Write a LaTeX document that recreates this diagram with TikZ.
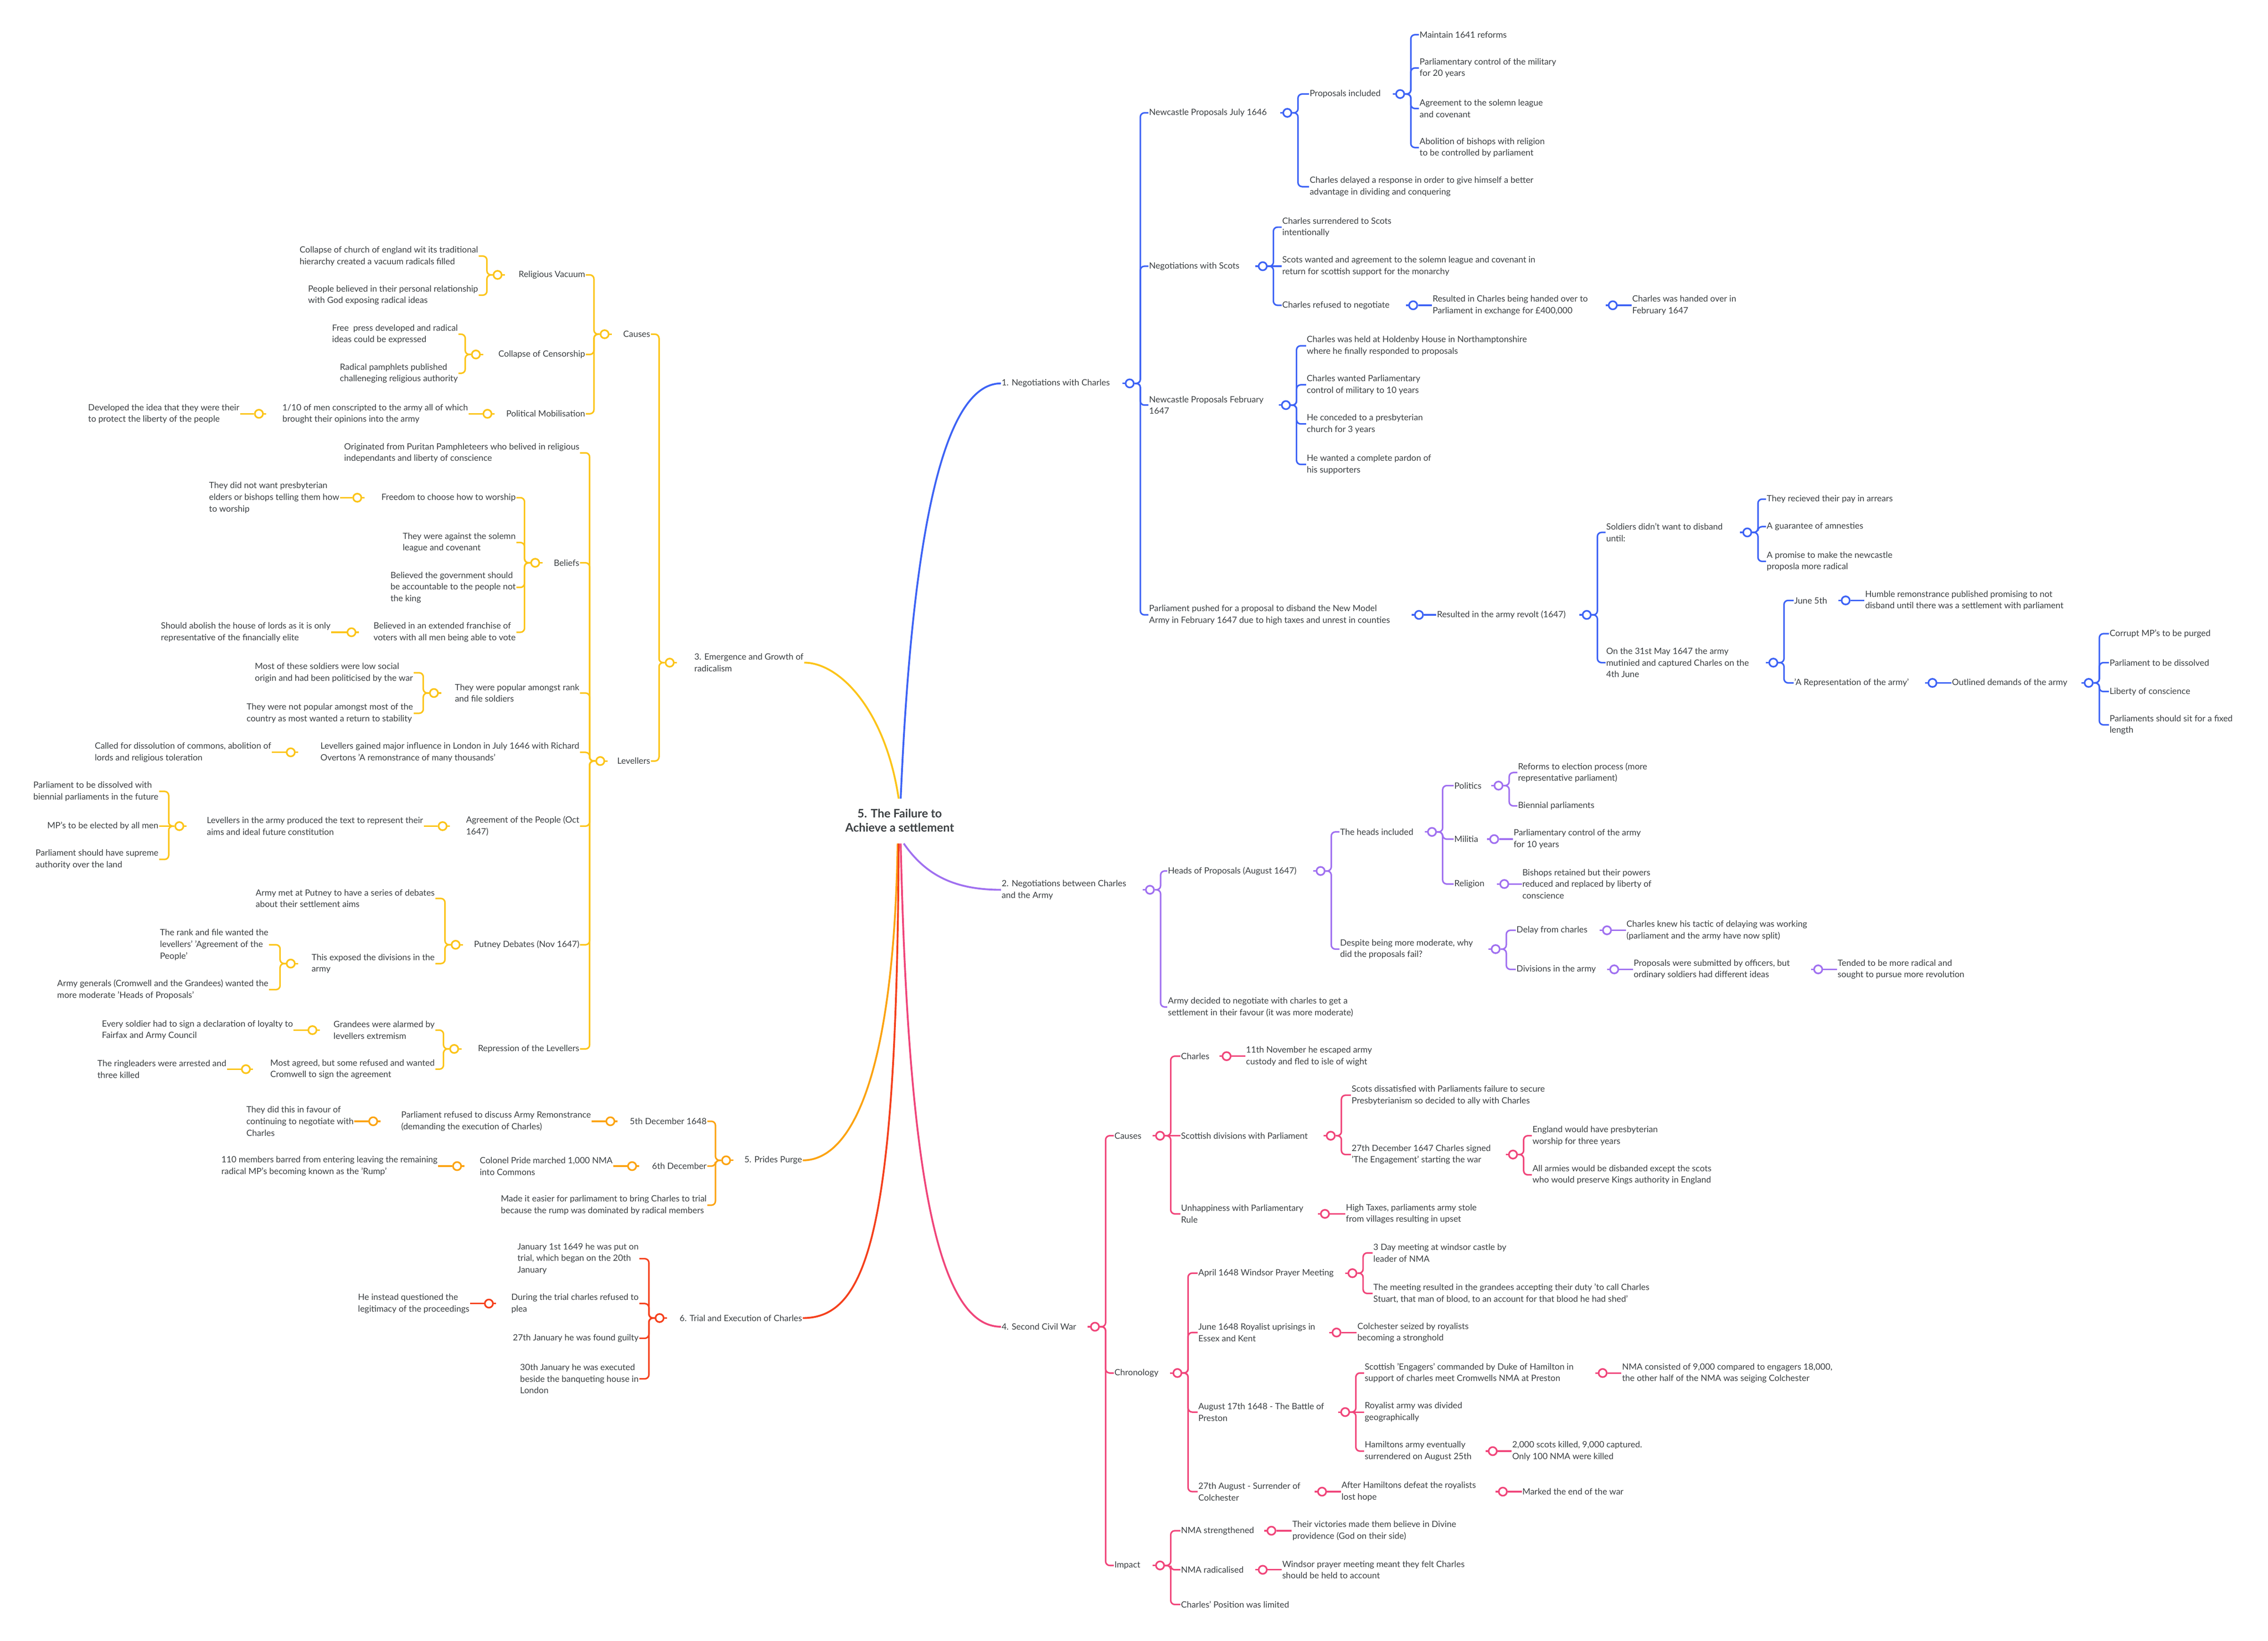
\documentclass[tikz,border=0pt]{standalone}
\usepackage{fontspec}
\setmainfont{Lato}
\definecolor{B}{HTML}{3D63F5}
\definecolor{P}{HTML}{A070F0}
\definecolor{Y}{HTML}{FCC419}
\definecolor{K}{HTML}{F0457A}
\definecolor{O}{HTML}{FCA311}
\definecolor{R}{HTML}{F5401C}
\definecolor{T}{HTML}{3C4043}
\tikzset{
 txt/.style={font=\fontsize{8.5}{11.4}\selectfont, text=T, align=left, inner sep=0.5pt},
 dot/.style={circle, fill=white, line width=1.6pt, minimum size=8pt, inner sep=0pt},
 con/.style={line width=1.5pt, rounded corners=4pt},
 main/.style={line width=1.8pt}
}
\newcommand\R[4]{\node[txt,anchor=west] (#1) at (#2,#3) {#4};}
\newcommand\Lt[4]{\node[txt,anchor=east] (#1) at (#2,#3) {#4};}
\newcommand\D[4]{\draw[#4,line width=1.5pt] (#2,#3) -- ++(-5,0); \node[dot,draw=#4] (#1) at (#2,#3) {};}
\newcommand\E[4]{\draw[#4,line width=1.5pt] (#2,#3) -- ++(5,0); \node[dot,draw=#4] (#1) at (#2,#3) {};}
\newdimen\mydy
\newcommand\Conn[4]{% from anchor, to anchor, color, dir(+4/-4)
 \path (#1) coordinate (tmpa) (#2) coordinate (tmpb);
 \pgfextracty{\mydy}{\pgfpointdiff{\pgfpointanchor{tmpa}{center}}{\pgfpointanchor{tmpb}{center}}}%
 \ifdim\mydy<0pt \mydy=-\mydy\fi
 \ifdim\mydy<2pt \draw[#3,con] (tmpa) -- (tmpb);
 \else \draw[#3,con] (tmpa) -- ++(#4,0) |- (tmpb);\fi}
\newcommand\C[3]{\Conn{#1.east}{#2.west}{#3}{4}}
\newcommand\Cl[3]{\Conn{#1.west}{#2.east}{#3}{-4}}
\begin{document}
\begin{tikzpicture}[x=0.5mm,y=-0.5mm]
\useasboundingbox[fill=white] (0,0) rectangle (1568,1134);
% centre
\node[font=\fontsize{11.5}{14}\selectfont\bfseries, text=T, align=center] (c) at (622,567) {5. The Failure to\\Achieve a settlement};
% ================= BRANCH 1
\R{b1}{692}{265}{1. Negotiations with Charles}
\R{n1}{794}{78}{Newcastle Proposals July 1646}
\R{n1a}{905}{65}{Proposals included}
\R{n1a1}{981}{24}{Maintain 1641 reforms}
\R{n1a2}{981}{47}{Parliamentary control of the military\\for 20 years}
\R{n1a3}{981}{75}{Agreement to the solemn league\\and covenant}
\R{n1a4}{981}{102}{Abolition of bishops with religion\\to be controlled by parliament}
\R{n1b}{905}{129}{Charles delayed a response in order to give himself a better\\advantage in dividing and conquering}
\R{n2}{794}{184}{Negotiations with Scots}
\R{n2a}{886}{157}{Charles surrendered to Scots\\intentionally}
\R{n2b}{886}{184}{Scots wanted and agreement to the solemn league and covenant in\\return for scottish support for the monarchy}
\R{n2c}{886}{211}{Charles refused to negotiate}
\R{n2c1}{990}{211}{Resulted in Charles being handed over to\\Parliament in exchange for £400,000}
\R{n2c2}{1128}{211}{Charles was handed over in\\February 1647}
\R{n3}{794}{280}{Newcastle Proposals February\\1647}
\R{n3a}{903}{239}{Charles was held at Holdenby House in Northamptonshire\\where he finally responded to proposals}
\R{n3b}{903}{266}{Charles wanted Parliamentary\\control of military to 10 years}
\R{n3c}{903}{293}{He conceded to a presbyterian\\church for 3 years}
\R{n3e}{903}{321}{He wanted a complete pardon of\\his supporters}
\R{n4}{794}{425}{Parliament pushed for a proposal to disband the New Model\\Army in February 1647 due to high taxes and unrest in counties}
\R{n4a}{993}{425}{Resulted in the army revolt (1647)}
\R{n4b}{1110}{368}{Soldiers didn't want to disband\\until:}
\R{n4b1}{1221}{345}{They recieved their pay in arrears}
\R{n4b2}{1221}{364}{A guarantee of amnesties}
\R{n4b3}{1221}{388}{A promise to make the newcastle\\proposla more radical}
\R{n4c}{1110}{458}{On the 31st May 1647 the army\\mutinied and captured Charles on the\\4th June}
\R{n4c1}{1240}{415}{June 5th}
\R{n4c1a}{1289}{415}{Humble remonstrance published promising to not\\disband until there was a settlement with parliament}
\R{n4c2}{1240}{472}{'A Representation of the army'}
\R{n4c2a}{1349}{472}{Outlined demands of the army}
\R{q1}{1458}{438}{Corrupt MP's to be purged}
\R{q2}{1458}{458}{Parliament to be dissolved}
\R{q3}{1458}{478}{Liberty of conscience}
\R{q4}{1458}{501}{Parliaments should sit for a fixed\\length}
\D{b1d}{781}{265}{B}\D{n1d}{890}{78}{B}\D{n1ad}{968}{65}{B}\D{n2d}{873}{184}{B}
\D{n2cd}{977}{211}{B}\D{n2c1d}{1115}{211}{B}\D{n3d}{889}{280}{B}\D{n4d}{981}{425}{B}
\D{n4ad}{1097}{425}{B}\D{n4bd}{1208}{368}{B}\D{n4cd}{1226}{458}{B}\D{n4c1d}{1276}{415}{B}
\D{n4c2d}{1336}{472}{B}\D{n4c2ad}{1444}{472}{B}
\foreach \a/\b in {b1d/n1,b1d/n2,b1d/n3,b1d/n4,n1d/n1a,n1d/n1b,n1ad/n1a1,n1ad/n1a2,n1ad/n1a3,n1ad/n1a4,
 n2d/n2a,n2d/n2b,n2d/n2c,n2cd/n2c1,n2c1d/n2c2,n3d/n3a,n3d/n3b,n3d/n3c,n3d/n3e,n4d/n4a,n4ad/n4b,n4ad/n4c,
 n4bd/n4b1,n4bd/n4b2,n4bd/n4b3,n4cd/n4c1,n4cd/n4c2,n4c1d/n4c1a,n4c2d/n4c2a,n4c2ad/q1,n4c2ad/q2,n4c2ad/q3,n4c2ad/q4}
 {\C{\a}{\b}{B}}
% ================= BRANCH 2
\R{b2}{692}{615}{2. Negotiations between Charles\\and the Army}
\R{h1}{807}{602}{Heads of Proposals (August 1647)}
\R{h1a}{926}{575}{The heads included}
\R{pol}{1005}{543}{Politics}
\R{pol1}{1049}{534}{Reforms to election process (more\\representative parliament)}
\R{pol2}{1049}{557}{Biennial parliaments}
\R{mil}{1005}{580}{Militia}
\R{mil1}{1046}{580}{Parliamentary control of the army\\for 10 years}
\R{rel}{1005}{611}{Religion}
\R{rel1}{1052}{611}{Bishops retained but their powers\\reduced and replaced by liberty of\\conscience}
\R{h1b}{926}{656}{Despite being more moderate, why\\did the proposals fail?}
\R{del}{1048}{643}{Delay from charles}
\R{del1}{1124}{643}{Charles knew his tactic of delaying was working\\(parliament and the army have now split)}
\R{div}{1048}{670}{Divisions in the army}
\R{div1}{1129}{670}{Proposals were submitted by officers, but\\ordinary soldiers had different ideas}
\R{div2}{1270}{670}{Tended to be more radical and\\sought to pursue more revolution}
\R{h2}{807}{696}{Army decided to negotiate with charles to get a\\settlement in their favour (it was more moderate)}
\D{b2d}{795}{615}{P}\D{h1d}{913}{602}{P}\D{h1ad}{990}{575}{P}\D{pold}{1036}{543}{P}\D{mild}{1033}{580}{P}
\D{reld}{1040}{611}{P}\D{h1bd}{1034}{656}{P}\D{deld}{1111}{643}{P}\D{divd}{1116}{670}{P}\D{div1d}{1257}{670}{P}
\foreach \a/\b in {b2d/h1,b2d/h2,h1d/h1a,h1d/h1b,h1ad/pol,h1ad/mil,h1ad/rel,pold/pol1,pold/pol2,mild/mil1,reld/rel1,
 h1bd/del,h1bd/div,deld/del1,divd/div1,div1d/div2}{\C{\a}{\b}{P}}
% ================= BRANCH 4
\R{b4}{692}{917}{4. Second Civil War}
\R{ca}{770}{785}{Causes}
\R{ch}{816}{730}{Charles}
\R{ch1}{861}{730}{11th November he escaped army\\custody and fled to isle of wight}
\R{sc}{816}{785}{Scottish divisions with Parliament}
\R{sc1}{934}{757}{Scots dissatisfied with Parliaments failure to secure\\Presbyterianism so decided to ally with Charles}
\R{sc2}{934}{798}{27th December 1647 Charles signed\\'The Engagement' starting the war}
\R{sc2a}{1059}{785}{England would have presbyterian\\worship for three years}
\R{sc2b}{1059}{812}{All armies would be disbanded except the scots\\who would preserve Kings authority in England}
\R{un}{816}{839}{Unhappiness with Parliamentary\\Rule}
\R{un1}{930}{839}{High Taxes, parliaments army stole\\from villages resulting in upset}
\R{cr}{770}{949}{Chronology}
\R{ap}{828}{880}{April 1648 Windsor Prayer Meeting}
\R{ap1}{949}{866}{3 Day meeting at windsor castle by\\leader of NMA}
\R{ap2}{949}{894}{The meeting resulted in the grandees accepting their duty 'to call Charles\\Stuart, that man of blood, to an account for that blood he had shed'}
\R{ju}{828}{921}{June 1648 Royalist uprisings in\\Essex and Kent}
\R{ju1}{938}{921}{Colchester seized by royalists\\becoming a stronghold}
\R{au}{828}{976}{August 17th 1648 - The Battle of\\Preston}
\R{au1}{943}{949}{Scottish 'Engagers' commanded by Duke of Hamilton in\\support of charles meet Cromwells NMA at Preston}
\R{au1a}{1121}{949}{NMA consisted of 9,000 compared to engagers 18,000,\\the other half of the NMA was seiging Colchester}
\R{au2}{943}{976}{Royalist army was divided\\geographically}
\R{au3}{943}{1003}{Hamiltons army eventually\\surrendered on August 25th}
\R{au3a}{1045}{1003}{2,000 scots killed, 9,000 captured.\\Only 100 NMA were killed}
\R{co}{828}{1031}{27th August - Surrender of\\Colchester}
\R{co1}{927}{1031}{After Hamiltons defeat the royalists\\lost hope}
\R{co2}{1052}{1031}{Marked the end of the war}
\R{im}{770}{1082}{Impact}
\R{im1}{816}{1058}{NMA strengthened}
\R{im1a}{893}{1058}{Their victories made them believe in Divine\\providence (God on their side)}
\R{im2}{816}{1085}{NMA radicalised}
\R{im2a}{886}{1085}{Windsor prayer meeting meant they felt Charles\\should be held to account}
\R{im3}{816}{1109}{Charles' Position was limited}
\D{b4d}{757}{917}{K}\D{cad}{802}{785}{K}\D{chd}{848}{730}{K}\D{scd}{920}{785}{K}\D{sc2d}{1046}{798}{K}
\D{und}{916}{839}{K}\D{crd}{814}{949}{K}\D{apd}{935}{880}{K}\D{jud}{924}{921}{K}\D{aud}{930}{976}{K}
\D{au1d}{1108}{949}{K}\D{au3d}{1032}{1003}{K}\D{cod}{914}{1031}{K}\D{co1d}{1039}{1031}{K}
\D{imd}{802}{1082}{K}\D{im1d}{879}{1058}{K}\D{im2d}{873}{1085}{K}
\foreach \a/\b in {b4d/ca,b4d/cr,b4d/im,cad/ch,cad/sc,cad/un,chd/ch1,scd/sc1,scd/sc2,sc2d/sc2a,sc2d/sc2b,und/un1,
 crd/ap,crd/ju,crd/au,crd/co,apd/ap1,apd/ap2,jud/ju1,aud/au1,aud/au2,aud/au3,au1d/au1a,au3d/au3a,cod/co1,co1d/co2,
 imd/im1,imd/im2,imd/im3,im1d/im1a,im2d/im2a}{\C{\a}{\b}{K}}
% ================= BRANCH 3
\Lt{b3}{556}{458}{3. Emergence and Growth of\\radicalism}
\Lt{cs}{450}{231}{Causes}
\Lt{rv}{405}{190}{Religious Vacuum}
\Lt{rv1}{331}{177}{Collapse of church of england wit its traditional\\hierarchy created a vacuum radicals filled}
\Lt{rv2}{331}{204}{People believed in their personal relationship\\with God exposing radical ideas}
\Lt{cc}{405}{245}{Collapse of Censorship}
\Lt{cc1}{317}{231}{Free \ press developed and radical\\ideas could be expressed}
\Lt{cc2}{317}{258}{Radical pamphlets published\\challeneging religious authority}
\Lt{pm}{405}{286}{Political Mobilisation}
\Lt{pm1}{324}{286}{1/10 of men conscripted to the army all of which\\brought their opinions into the army}
\Lt{pm2}{166}{286}{Developed the idea that they were their\\to protect the liberty of the people}
\Lt{lv}{450}{526}{Levellers}
\Lt{lv1}{401}{313}{Originated from Puritan Pamphleteers who belived in religious\\independants and liberty of conscience}
\Lt{be}{401}{389}{Beliefs}
\Lt{be1}{357}{344}{Freedom to choose how to worship}
\Lt{be1a}{235}{344}{They did not want presbyterian\\elders or bishops telling them how\\to worship}
\Lt{be2}{357}{375}{They were against the solemn\\league and covenant}
\Lt{be3}{357}{406}{Believed the government should\\be accountable to the people not\\the king}
\Lt{be4}{357}{437}{Believed in an extended franchise of\\voters with all men being able to vote}
\Lt{be4a}{229}{437}{Should abolish the house of lords as it is only\\representative of the financially elite}
\Lt{pp}{401}{479}{They were popular amongst rank\\and file soldiers}
\Lt{pp1}{286}{465}{Most of these soldiers were low social\\origin and had been politicised by the war}
\Lt{pp2}{286}{493}{They were not popular amongst most of the\\country as most wanted a return to stability}
\Lt{gi}{401}{520}{Levellers gained major influence in London in July 1646 with Richard\\Overtons 'A remonstrance of many thousands'}
\Lt{gi1}{188}{520}{Called for dissolution of commons, abolition of\\lords and religious toleration}
\Lt{ag}{401}{571}{Agreement of the People (Oct\\1647)}
\Lt{ag1}{293}{571}{Levellers in the army produced the text to represent their\\aims and ideal future constitution}
\Lt{ag1a}{110}{547}{Parliament to be dissolved with\\biennial parliaments in the future}
\Lt{ag1b}{110}{571}{MP's to be elected by all men}
\Lt{ag1c}{110}{594}{Parliament should have supreme\\authority over the land}
\Lt{pd}{401}{653}{Putney Debates (Nov 1647)}
\Lt{pd1}{301}{621}{Army met at Putney to have a series of debates\\about their settlement aims}
\Lt{pd2}{301}{666}{This exposed the divisions in the\\army}
\Lt{pd2a}{186}{653}{The rank and file wanted the\\levellers' 'Agreement of the\\People'}
\Lt{pd2b}{186}{684}{Army generals (Cromwell and the Grandees) wanted the\\more moderate 'Heads of Proposals'}
\Lt{rp}{401}{725}{Repression of the Levellers}
\Lt{rp1}{301}{712}{Grandees were alarmed by\\levellers extremism}
\Lt{rp1a}{203}{712}{Every soldier had to sign a declaration of loyalty to\\Fairfax and Army Council}
\Lt{rp2}{301}{739}{Most agreed, but some refused and wanted\\Cromwell to sign the agreement}
\Lt{rp2a}{157}{739}{The ringleaders were arrested and\\three killed}
\E{b3d}{463}{458}{Y}\E{csd}{418}{231}{Y}\E{rvd}{344}{190}{Y}\E{ccd}{329}{245}{Y}\E{pmd}{337}{286}{Y}
\E{pm1d}{179}{286}{Y}\E{lvd}{415}{526}{Y}\E{bed}{370}{389}{Y}\E{be1d}{247}{344}{Y}\E{be4d}{243}{437}{Y}
\E{ppd}{300}{479}{Y}\E{gid}{201}{520}{Y}\E{agd}{306}{571}{Y}\E{ag1d}{124}{571}{Y}\E{pdd}{315}{653}{Y}
\E{pd2d}{201}{666}{Y}\E{rpd}{314}{725}{Y}\E{rp1d}{216}{712}{Y}\E{rp2d}{170}{739}{Y}
\foreach \a/\b in {b3d/cs,b3d/lv,csd/rv,csd/cc,csd/pm,rvd/rv1,rvd/rv2,ccd/cc1,ccd/cc2,pmd/pm1,pm1d/pm2,
 lvd/lv1,lvd/be,lvd/pp,lvd/gi,lvd/ag,lvd/pd,lvd/rp,bed/be1,bed/be2,bed/be3,bed/be4,be1d/be1a,be4d/be4a,
 ppd/pp1,ppd/pp2,gid/gi1,agd/ag1,ag1d/ag1a,ag1d/ag1b,ag1d/ag1c,pdd/pd1,pdd/pd2,pd2d/pd2a,pd2d/pd2b,
 rpd/rp1,rpd/rp2,rp1d/rp1a,rp2d/rp2a}{\Cl{\a}{\b}{Y}}
% ================= BRANCH 5
\Lt{b5}{555}{802}{5. Prides Purge}
\Lt{d5}{489}{775}{5th December 1648}
\Lt{d5a}{409}{775}{Parliament refused to discuss Army Remonstrance\\(demanding the execution of Charles)}
\Lt{d5b}{245}{775}{They did this in favour of\\continuing to negotiate with\\Charles}
\Lt{d6}{489}{806}{6th December}
\Lt{d6a}{424}{806}{Colonel Pride marched 1,000 NMA\\into Commons}
\Lt{d6b}{303}{806}{110 members barred from entering leaving the remaining\\radical MP's becoming known as the 'Rump'}
\Lt{d7}{489}{833}{Made it easier for parlimament to bring Charles to trial\\because the rump was dominated by radical members}
\E{b5d}{502}{802}{O}\E{d5d}{422}{775}{O}\E{d5ad}{258}{775}{O}\E{d6d}{437}{806}{O}\E{d6ad}{316}{806}{O}
\foreach \a/\b in {b5d/d5,b5d/d6,b5d/d7,d5d/d5a,d5ad/d5b,d6d/d6a,d6ad/d6b}{\Cl{\a}{\b}{O}}
% ================= BRANCH 6
\Lt{b6}{555}{911}{6. Trial and Execution of Charles}
\Lt{t1}{442}{870}{January 1st 1649 he was put on\\trial, which began on the 20th\\January}
\Lt{t2}{442}{901}{During the trial charles refused to\\plea}
\Lt{t2a}{325}{901}{He instead questioned the\\legitimacy of the proceedings}
\Lt{t3}{442}{925}{27th January he was found guilty}
\Lt{t4}{442}{953}{30th January he was executed\\beside the banqueting house in\\London}
\E{b6d}{456}{911}{R}\E{t2d}{338}{901}{R}
\foreach \a/\b in {b6d/t1,b6d/t2,b6d/t3,b6d/t4,t2d/t2a}{\Cl{\a}{\b}{R}}
% ================= main connectors
\coordinate (cT) at (622,552);
\coordinate (cB) at (622,583);
\draw[B,main] ([xshift=1]cT) .. controls (630,380) and (650,265) .. (b1.west);
\draw[Y,main] ([xshift=-1]cT) .. controls (612,490) and (580,458) .. (b3.east);
\draw[P,main] ([xshift=4]cB) .. controls (640,605) and (660,615) .. (b2.west);
\draw[K,main] ([xshift=1]cB) .. controls (628,820) and (650,917) .. (b4.west);
\draw[O,main] ([xshift=-2]cB) .. controls (618,740) and (590,802) .. (b5.east);
\draw[R,main] ([xshift=-1]cB) .. controls (620,850) and (600,911) .. (b6.east);
\end{tikzpicture}
\end{document}
